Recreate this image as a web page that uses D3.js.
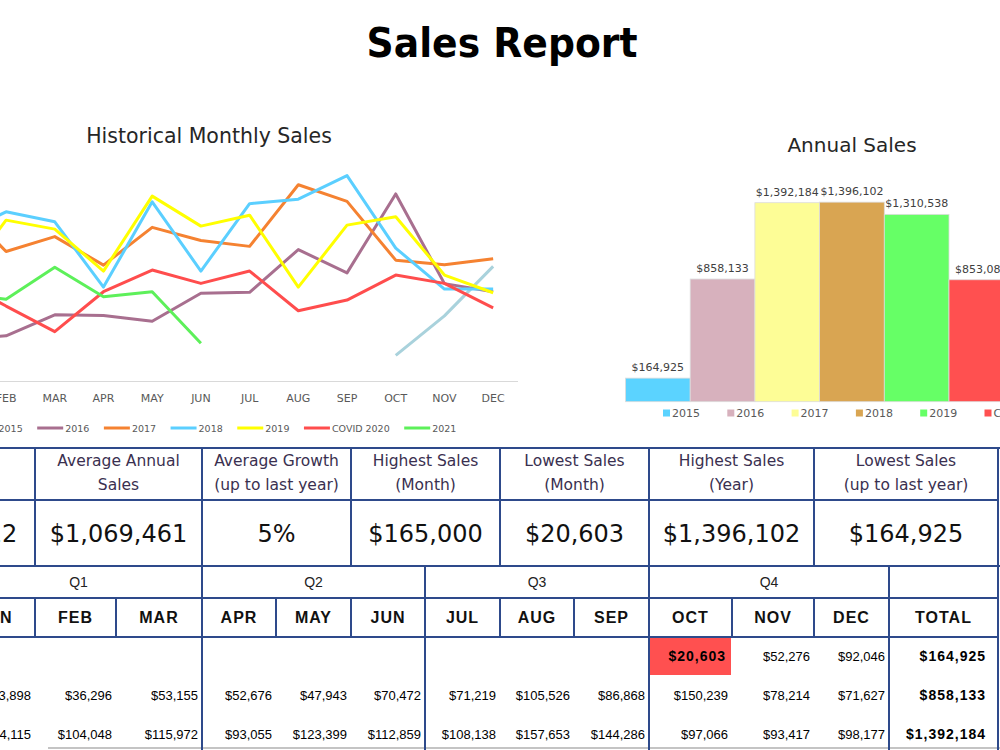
<!DOCTYPE html>
<meta charset="utf-8">
<style>
body { margin: 0; background: #fff; }
svg { display: block; }
.title { font-family: "DejaVu Sans", sans-serif; font-weight: bold; fill: #000; }
.ctitle { font-family: "DejaVu Sans", sans-serif; fill: #262626; }
.axis text { font-family: "DejaVu Sans", sans-serif; font-size: 11px; fill: #595959; }
.legend text { font-family: "DejaVu Sans", sans-serif; fill: #595959; }
.kpi-head { font-family: "DejaVu Sans", sans-serif; font-size: 15.5px; fill: #3a3050; }
.kpi-val { font-family: "DejaVu Sans", sans-serif; font-size: 24px; fill: #111; }
.qlabel { font-family: "Liberation Sans", sans-serif; font-size: 14px; fill: #222; }
.mhead { font-family: "Liberation Sans", sans-serif; font-size: 16px; font-weight: bold; letter-spacing: 1px; fill: #111; }
.cell { font-family: "Liberation Sans", sans-serif; font-size: 13px; fill: #000; }
.cell.bold { font-weight: bold; font-size: 14px; letter-spacing: 1px; }
</style>
<body>
<svg width="1000" height="750"></svg>
<script src="https://cdn.jsdelivr.net/npm/d3@7"></script>
<script>

// ---- data ----
var months = ["JAN", "FEB", "MAR", "APR", "MAY", "JUN", "JUL", "AUG", "SEP", "OCT", "NOV", "DEC"];
var quarters = ["Q1", "Q2", "Q3", "Q4"];
var years = ["2015", "2016", "2017", "2018", "2019", "COVID 2020", "2021"];

var sales2015 = [null, null, null, null, null, null, null, null, null, 20603, 52276, 92046];
var sales2016 = [33898, 36296, 53155, 52676, 47943, 70472, 71219, 105526, 86868, 150239, 78214, 71627];
var sales2017 = [144115, 104048, 115972, 93055, 123399, 112859, 108138, 157653, 144286, 97066, 93417, 98177];
var sales2018 = [116792, 135900, 127850, 75440, 143900, 88280, 142450, 146070, 165000, 106740, 73840, 73840];
var sales2019 = [76438, 129200, 122000, 88300, 148500, 124400, 133200, 75400, 125200, 131900, 85100, 70900];
var sales2020 = [82080, 60200, 39600, 71700, 89100, 78400, 88300, 56400, 65000, 85100, 78400, 58800];
var sales2021 = [71400, 65600, 91300, 67700, 71700, 30300, null, null, null, null, null, null];

var annualSales = [164925, 858133, 1392184, 1396102, 1310538, 853080, 398000];

var lineColors = ["#a9d2dc", "#a86f8f", "#f58231", "#5bcfff", "#ffff00", "#ff4d4d", "#5df05a"];
var barColors = ["#5bd3ff", "#d7b1bd", "#fdfd96", "#d9a552", "#66ff66", "#ff5050", "#8fd3a8"];

var kpiLabels = [["Total Sales", ""], ["Average Annual", "Sales"], ["Average Growth", "(up to last year)"],
  ["Highest Sales", "(Month)"], ["Lowest Sales", "(Month)"], ["Highest Sales", "(Year)"], ["Lowest Sales", "(up to last year)"]];
var kpiValues = ["$7,486,212", "$1,069,461", "5%", "$165,000", "$20,603", "$1,396,102", "$164,925"];

var tableYears = [0, 1, 2]; // 2015, 2016, 2017 visible rows
var lowestMonth = { row: 0, col: 9 };

var allSales = [sales2015, sales2016, sales2017, sales2018, sales2019, sales2020, sales2021];

var svg = d3.select("svg");
var fmt = d3.format("$,");
var navy = "#2e4a8b";

// ---- title ----
svg.append("text")
    .attr("class", "title")
    .attr("x", 502).attr("y", 57)
    .attr("text-anchor", "middle")
    .attr("font-size", 41)
    .attr("textLength", 271)
    .attr("lengthAdjust", "spacingAndGlyphs")
    .text("Sales Report");

// ---- line chart ----
var x = d3.scaleBand().domain(months).range([-67, 517.5]);
var y = d3.scaleLinear().domain([0, 200000]).range([381, 132]);
var cx = function(m) { return x(m) + x.bandwidth() / 2; };

svg.append("text")
    .attr("class", "ctitle")
    .attr("x", 209).attr("y", 143)
    .attr("text-anchor", "middle")
    .attr("font-size", 20.5)
    .text("Historical Monthly Sales");

var xAxis = svg.append("g")
    .attr("class", "axis")
    .attr("transform", "translate(0,381)")
    .call(d3.axisBottom(x).tickSize(0).tickPadding(13));
xAxis.select(".domain").attr("stroke", "#d9d9d9").attr("stroke-width", 1.2);

var line = d3.line()
    .defined(function(d) { return d != null; })
    .x(function(d, i) { return cx(months[i]); })
    .y(function(d) { return y(d); });

svg.append("g").selectAll("path")
    .data(allSales)
    .enter().append("path")
      .attr("fill", "none")
      .attr("stroke", function(d, i) { return lineColors[i]; })
      .attr("stroke-width", 3)
      .attr("stroke-linejoin", "round")
      .attr("d", line);

// line legend
var lg = svg.append("g").attr("class", "legend");
var lx = -29.5;
years.forEach(function(yr, i) {
  lg.append("line")
      .attr("x1", lx).attr("x2", lx + 26)
      .attr("y1", 428).attr("y2", 428)
      .attr("stroke", lineColors[i]).attr("stroke-width", 3);
  var t = lg.append("text")
      .attr("x", lx + 28).attr("y", 431.5)
      .attr("font-size", 9.5)
      .text(yr);
  lx += 28 + t.node().getComputedTextLength() + 14.5;
});

// ---- bar chart ----
var xb = d3.scaleBand().domain(years).range([625.5, 625.5 + 7 * 64.7]).padding(0);
var yb = d3.scaleLinear().domain([0, 1600000]).range([401.7, 173]);

svg.append("text")
    .attr("class", "ctitle")
    .attr("x", 852).attr("y", 152)
    .attr("text-anchor", "middle")
    .attr("font-size", 20)
    .text("Annual Sales");

svg.append("g").selectAll("rect")
    .data(annualSales)
    .enter().append("rect")
      .attr("x", function(d, i) { return xb(years[i]); })
      .attr("y", function(d) { return yb(d); })
      .attr("width", xb.bandwidth())
      .attr("height", function(d) { return yb(0) - yb(d); })
      .attr("fill", function(d, i) { return barColors[i]; })
      .attr("stroke", "#dcdcdc")
      .attr("stroke-width", 0.8);

svg.append("g").selectAll("text")
    .data(annualSales)
    .enter().append("text")
      .attr("x", function(d, i) { return xb(years[i]) + xb.bandwidth() / 2; })
      .attr("y", function(d) { return yb(d) - 7; })
      .attr("text-anchor", "middle")
      .attr("font-family", "DejaVu Sans, sans-serif")
      .attr("font-size", 11)
      .attr("fill", "#404040")
      .text(function(d) { return fmt(d); });

var bl = svg.append("g").attr("class", "legend");
var bx = 663;
years.forEach(function(yr, i) {
  bl.append("rect")
      .attr("x", bx).attr("y", 409.5)
      .attr("width", 7).attr("height", 7)
      .attr("fill", barColors[i]);
  var t = bl.append("text")
      .attr("x", bx + 9).attr("y", 417)
      .attr("font-size", 11)
      .text(yr);
  bx += 9 + t.node().getComputedTextLength() + 27.3;
});

// ---- KPI table ----
var kpiEdges = [-138, 35, 202, 351, 500, 649, 814, 998];
var kpi = svg.append("g");
kpiLabels.forEach(function(lab, i) {
  var c = (kpiEdges[i] + kpiEdges[i + 1]) / 2;
  kpi.append("text").attr("class", "kpi-head")
      .attr("x", c).attr("y", lab[1] ? 466 : 478)
      .attr("text-anchor", "middle").text(lab[0]);
  kpi.append("text").attr("class", "kpi-head")
      .attr("x", c).attr("y", 490)
      .attr("text-anchor", "middle").text(lab[1]);
  kpi.append("text").attr("class", "kpi-val")
      .attr("x", c).attr("y", 542)
      .attr("text-anchor", "middle").text(kpiValues[i]);
});

// ---- monthly table ----
var monthEdges = [-45, 35, 116, 202, 276, 351, 425, 500, 574, 649, 732, 814, 889];
var totalEdge = 998;
var qEdges = [monthEdges[0], monthEdges[3], monthEdges[6], monthEdges[9], monthEdges[12]];
var rowY = [637, 676, 715, 754];

var tb = svg.append("g");

// highlighted lowest month
tb.append("rect")
    .attr("x", monthEdges[lowestMonth.col] + 1)
    .attr("y", rowY[lowestMonth.row] + 1)
    .attr("width", monthEdges[lowestMonth.col + 1] - monthEdges[lowestMonth.col] - 2)
    .attr("height", rowY[1] - rowY[0] - 2)
    .attr("fill", "#ff5050");

quarters.forEach(function(q, i) {
  tb.append("text").attr("class", "qlabel")
      .attr("x", (qEdges[i] + qEdges[i + 1]) / 2).attr("y", 587)
      .attr("text-anchor", "middle").text(q);
});

months.forEach(function(m, i) {
  tb.append("text").attr("class", "mhead")
      .attr("x", (monthEdges[i] + monthEdges[i + 1]) / 2).attr("y", 623)
      .attr("text-anchor", "middle").text(m);
});
tb.append("text").attr("class", "mhead")
    .attr("x", (monthEdges[12] + totalEdge) / 2).attr("y", 623)
    .attr("text-anchor", "middle").text("TOTAL");

tableYears.forEach(function(yi, r) {
  var cy = (rowY[r] + rowY[r + 1]) / 2 + 4.5;
  allSales[yi].forEach(function(v, c) {
    if (v == null) return;
    var low = (r === lowestMonth.row && c === lowestMonth.col);
    tb.append("text").attr("class", low ? "cell bold" : "cell")
        .attr("x", monthEdges[c + 1] - (low ? 6 : 4)).attr("y", cy)
        .attr("text-anchor", "end").text(fmt(v));
  });
  tb.append("text").attr("class", "cell bold")
      .attr("x", totalEdge - 12).attr("y", cy)
      .attr("text-anchor", "end").text(fmt(annualSales[yi]));
});

// grid lines
function hline(y0, x0, x1, col, w) {
  tb.append("line").attr("x1", x0).attr("x2", x1).attr("y1", y0).attr("y2", y0)
      .attr("stroke", col || navy).attr("stroke-width", w || 2);
}
function vline(x0, y0, y1) {
  tb.append("line").attr("x1", x0).attr("x2", x0).attr("y1", y0).attr("y2", y1)
      .attr("stroke", navy).attr("stroke-width", 2);
}
hline(748, 48, 1000, "#b0b0b0", 1.5);
hline(448, 0, 1000);
hline(500, 0, totalEdge);
hline(566, 0, 1000);
hline(598, 0, totalEdge);
hline(637, 0, totalEdge);
kpiEdges.slice(1).forEach(function(e) { vline(e, 448, 566); });
qEdges.slice(1).concat([totalEdge]).forEach(function(e) { vline(e, 566, 750); });
monthEdges.slice(1).forEach(function(e) { vline(e, 598, 637); });

</script>
</body>
